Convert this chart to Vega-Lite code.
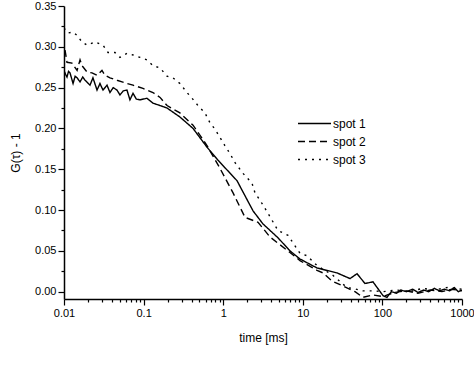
{
  "$schema": "https://vega.github.io/schema/vega-lite/v6.json",
  "width": 398,
  "height": 293,
  "autosize": "none",
  "padding": {"left": 64, "top": 6, "right": 12, "bottom": 71},
  "background": "white",
  "config": {
    "view": {"stroke": null},
    "font": "Liberation Sans",
    "axis": {"labelColor": "black", "titleColor": "black", "domainColor": "black", "tickColor": "black", "labelFont": "Liberation Sans", "titleFont": "Liberation Sans", "titleFontWeight": "normal", "grid": false, "domainWidth": 1.5, "tickWidth": 1.2},
    "legend": {"labelFont": "Liberation Sans", "labelColor": "black"}
  },
  "data": {
    "values": [
      {"s": "spot 1", "t": 0.01, "g": 0.271},
      {"s": "spot 1", "t": 0.0105, "g": 0.266},
      {"s": "spot 1", "t": 0.0109, "g": 0.263},
      {"s": "spot 1", "t": 0.0114, "g": 0.27},
      {"s": "spot 1", "t": 0.0119, "g": 0.268},
      {"s": "spot 1", "t": 0.013, "g": 0.255},
      {"s": "spot 1", "t": 0.0138, "g": 0.264},
      {"s": "spot 1", "t": 0.0146, "g": 0.262},
      {"s": "spot 1", "t": 0.0159, "g": 0.257},
      {"s": "spot 1", "t": 0.0172, "g": 0.263},
      {"s": "spot 1", "t": 0.0184, "g": 0.259},
      {"s": "spot 1", "t": 0.0198, "g": 0.256},
      {"s": "spot 1", "t": 0.0212, "g": 0.253},
      {"s": "spot 1", "t": 0.0231, "g": 0.262},
      {"s": "spot 1", "t": 0.026, "g": 0.247},
      {"s": "spot 1", "t": 0.0283, "g": 0.255},
      {"s": "spot 1", "t": 0.0309, "g": 0.247},
      {"s": "spot 1", "t": 0.0347, "g": 0.253},
      {"s": "spot 1", "t": 0.0378, "g": 0.244},
      {"s": "spot 1", "t": 0.0415, "g": 0.25},
      {"s": "spot 1", "t": 0.0463, "g": 0.247},
      {"s": "spot 1", "t": 0.0505, "g": 0.241},
      {"s": "spot 1", "t": 0.0555, "g": 0.246},
      {"s": "spot 1", "t": 0.0618, "g": 0.247},
      {"s": "spot 1", "t": 0.0674, "g": 0.235},
      {"s": "spot 1", "t": 0.0736, "g": 0.243},
      {"s": "spot 1", "t": 0.081, "g": 0.236},
      {"s": "spot 1", "t": 0.0901, "g": 0.235},
      {"s": "spot 1", "t": 0.11, "g": 0.237},
      {"s": "spot 1", "t": 0.131, "g": 0.231},
      {"s": "spot 1", "t": 0.161, "g": 0.228},
      {"s": "spot 1", "t": 0.197, "g": 0.225},
      {"s": "spot 1", "t": 0.286, "g": 0.214},
      {"s": "spot 1", "t": 0.418, "g": 0.2},
      {"s": "spot 1", "t": 0.626, "g": 0.177},
      {"s": "spot 1", "t": 0.861, "g": 0.161},
      {"s": "spot 1", "t": 1.49, "g": 0.136},
      {"s": "spot 1", "t": 2.37, "g": 0.099},
      {"s": "spot 1", "t": 3.16, "g": 0.083},
      {"s": "spot 1", "t": 4.88, "g": 0.066},
      {"s": "spot 1", "t": 6.9, "g": 0.05},
      {"s": "spot 1", "t": 9.22, "g": 0.04},
      {"s": "spot 1", "t": 15.1, "g": 0.029},
      {"s": "spot 1", "t": 26.9, "g": 0.023},
      {"s": "spot 1", "t": 39.2, "g": 0.016},
      {"s": "spot 1", "t": 48.0, "g": 0.022},
      {"s": "spot 1", "t": 60.4, "g": 0.01},
      {"s": "spot 1", "t": 76.2, "g": 0.012},
      {"s": "spot 1", "t": 102, "g": -0.005},
      {"s": "spot 1", "t": 114, "g": -0.007},
      {"s": "spot 1", "t": 130, "g": 0.0},
      {"s": "spot 1", "t": 150, "g": -0.002},
      {"s": "spot 1", "t": 170, "g": 0.002},
      {"s": "spot 1", "t": 200, "g": 0.0},
      {"s": "spot 1", "t": 240, "g": 0.003},
      {"s": "spot 1", "t": 280, "g": -0.001},
      {"s": "spot 1", "t": 330, "g": 0.002},
      {"s": "spot 1", "t": 380, "g": 0.0},
      {"s": "spot 1", "t": 450, "g": 0.004},
      {"s": "spot 1", "t": 520, "g": 0.001},
      {"s": "spot 1", "t": 600, "g": 0.003},
      {"s": "spot 1", "t": 700, "g": 0.001},
      {"s": "spot 1", "t": 800, "g": 0.005},
      {"s": "spot 1", "t": 900, "g": 0.0},
      {"s": "spot 1", "t": 1000, "g": 0.002},

      {"s": "spot 2", "t": 0.0103, "g": 0.296},
      {"s": "spot 2", "t": 0.0109, "g": 0.281},
      {"s": "spot 2", "t": 0.0126, "g": 0.28},
      {"s": "spot 2", "t": 0.0146, "g": 0.271},
      {"s": "spot 2", "t": 0.0159, "g": 0.284},
      {"s": "spot 2", "t": 0.0168, "g": 0.277},
      {"s": "spot 2", "t": 0.0195, "g": 0.269},
      {"s": "spot 2", "t": 0.0225, "g": 0.268},
      {"s": "spot 2", "t": 0.026, "g": 0.265},
      {"s": "spot 2", "t": 0.03, "g": 0.271},
      {"s": "spot 2", "t": 0.0327, "g": 0.265},
      {"s": "spot 2", "t": 0.0378, "g": 0.262},
      {"s": "spot 2", "t": 0.0463, "g": 0.259},
      {"s": "spot 2", "t": 0.0536, "g": 0.257},
      {"s": "spot 2", "t": 0.0618, "g": 0.255},
      {"s": "spot 2", "t": 0.0736, "g": 0.253},
      {"s": "spot 2", "t": 0.0982, "g": 0.249},
      {"s": "spot 2", "t": 0.131, "g": 0.244},
      {"s": "spot 2", "t": 0.161, "g": 0.238},
      {"s": "spot 2", "t": 0.197, "g": 0.228},
      {"s": "spot 2", "t": 0.286, "g": 0.219},
      {"s": "spot 2", "t": 0.418, "g": 0.204},
      {"s": "spot 2", "t": 0.626, "g": 0.179},
      {"s": "spot 2", "t": 0.912, "g": 0.151},
      {"s": "spot 2", "t": 1.33, "g": 0.121},
      {"s": "spot 2", "t": 1.88, "g": 0.091},
      {"s": "spot 2", "t": 2.74, "g": 0.085},
      {"s": "spot 2", "t": 3.87, "g": 0.067},
      {"s": "spot 2", "t": 6.9, "g": 0.048},
      {"s": "spot 2", "t": 9.22, "g": 0.038},
      {"s": "spot 2", "t": 15.1, "g": 0.026},
      {"s": "spot 2", "t": 17.9, "g": 0.023},
      {"s": "spot 2", "t": 23.3, "g": 0.013},
      {"s": "spot 2", "t": 32.0, "g": 0.007},
      {"s": "spot 2", "t": 45.3, "g": 0.0},
      {"s": "spot 2", "t": 57.0, "g": -0.007},
      {"s": "spot 2", "t": 76.2, "g": -0.004},
      {"s": "spot 2", "t": 102, "g": -0.006},
      {"s": "spot 2", "t": 140, "g": -0.001},
      {"s": "spot 2", "t": 200, "g": 0.001},
      {"s": "spot 2", "t": 280, "g": -0.002},
      {"s": "spot 2", "t": 400, "g": 0.002},
      {"s": "spot 2", "t": 560, "g": 0.0},
      {"s": "spot 2", "t": 750, "g": 0.003},
      {"s": "spot 2", "t": 1000, "g": 0.001},

      {"s": "spot 3", "t": 0.01, "g": 0.323},
      {"s": "spot 3", "t": 0.0112, "g": 0.317},
      {"s": "spot 3", "t": 0.013, "g": 0.318},
      {"s": "spot 3", "t": 0.0146, "g": 0.314},
      {"s": "spot 3", "t": 0.0168, "g": 0.306},
      {"s": "spot 3", "t": 0.0195, "g": 0.302},
      {"s": "spot 3", "t": 0.0245, "g": 0.306},
      {"s": "spot 3", "t": 0.0309, "g": 0.302},
      {"s": "spot 3", "t": 0.0357, "g": 0.293},
      {"s": "spot 3", "t": 0.0437, "g": 0.293},
      {"s": "spot 3", "t": 0.0505, "g": 0.287},
      {"s": "spot 3", "t": 0.0618, "g": 0.292},
      {"s": "spot 3", "t": 0.0736, "g": 0.29},
      {"s": "spot 3", "t": 0.0901, "g": 0.287},
      {"s": "spot 3", "t": 0.11, "g": 0.284},
      {"s": "spot 3", "t": 0.131, "g": 0.277},
      {"s": "spot 3", "t": 0.161, "g": 0.274},
      {"s": "spot 3", "t": 0.197, "g": 0.264},
      {"s": "spot 3", "t": 0.234, "g": 0.262},
      {"s": "spot 3", "t": 0.286, "g": 0.255},
      {"s": "spot 3", "t": 0.351, "g": 0.244},
      {"s": "spot 3", "t": 0.406, "g": 0.237},
      {"s": "spot 3", "t": 0.482, "g": 0.228},
      {"s": "spot 3", "t": 0.59, "g": 0.219},
      {"s": "spot 3", "t": 0.682, "g": 0.207},
      {"s": "spot 3", "t": 0.789, "g": 0.199},
      {"s": "spot 3", "t": 0.912, "g": 0.189},
      {"s": "spot 3", "t": 1.05, "g": 0.179},
      {"s": "spot 3", "t": 1.22, "g": 0.169},
      {"s": "spot 3", "t": 1.41, "g": 0.158},
      {"s": "spot 3", "t": 1.77, "g": 0.145},
      {"s": "spot 3", "t": 2.3, "g": 0.133},
      {"s": "spot 3", "t": 2.51, "g": 0.121},
      {"s": "spot 3", "t": 2.9, "g": 0.112},
      {"s": "spot 3", "t": 3.65, "g": 0.096},
      {"s": "spot 3", "t": 4.88, "g": 0.075},
      {"s": "spot 3", "t": 6.52, "g": 0.069},
      {"s": "spot 3", "t": 9.22, "g": 0.047},
      {"s": "spot 3", "t": 11.3, "g": 0.044},
      {"s": "spot 3", "t": 15.1, "g": 0.032},
      {"s": "spot 3", "t": 19.0, "g": 0.026},
      {"s": "spot 3", "t": 23.9, "g": 0.02},
      {"s": "spot 3", "t": 35.9, "g": 0.005},
      {"s": "spot 3", "t": 42.7, "g": 0.004},
      {"s": "spot 3", "t": 57.0, "g": 0.001},
      {"s": "spot 3", "t": 76.2, "g": 0.001},
      {"s": "spot 3", "t": 102, "g": 0.0},
      {"s": "spot 3", "t": 150, "g": 0.002},
      {"s": "spot 3", "t": 220, "g": 0.0},
      {"s": "spot 3", "t": 320, "g": 0.004},
      {"s": "spot 3", "t": 450, "g": 0.002},
      {"s": "spot 3", "t": 650, "g": 0.005},
      {"s": "spot 3", "t": 1000, "g": 0.003}
    ]
  },
  "layer": [
    {
      "mark": {"type": "line", "color": "black", "strokeWidth": 1.4, "clip": true},
      "encoding": {
        "x": {"field": "t", "type": "quantitative", "scale": {"type": "log", "domain": [0.01, 1000]},
          "axis": {"orient": "bottom", "title": "time [ms]", "values": [0.01, 0.1, 1, 10, 100, 1000], "format": "~g", "tickSize": 6, "labelFontSize": 11, "titleFontSize": 12, "labelPadding": 2, "titlePadding": 14, "labelFlush": false, "labelOverlap": false}},
        "y": {"field": "g", "type": "quantitative", "scale": {"domain": [-0.009, 0.35], "nice": false, "zero": false},
          "axis": {"orient": "left", "title": "G(τ) - 1", "values": [0, 0.05, 0.1, 0.15, 0.2, 0.25, 0.3, 0.35], "format": ".2f", "tickSize": 6, "labelFontSize": 11, "titleFontSize": 12, "labelPadding": 2, "titlePadding": 12}},
        "detail": {"field": "s"},
        "strokeDash": {"field": "s", "type": "nominal",
          "scale": {"domain": ["spot 1", "spot 2", "spot 3"], "range": [[1, 0], [7, 4], [2, 5]]},
          "legend": {"title": null, "orient": "none", "legendX": 244, "legendY": 111, "symbolType": "M-3,0H3", "symbolSize": 121, "symbolStrokeWidth": 1.4, "symbolStrokeColor": "black", "symbolFillColor": "transparent", "labelFontSize": 12, "labelOffset": 12, "rowPadding": 5}}
      }
    },
    {
      "mark": {"type": "point", "opacity": 0},
      "encoding": {
        "x": {"field": "t", "type": "quantitative",
          "axis": {"orient": "bottom", "title": null, "labels": false, "domain": false, "tickSize": 3,
            "values": [0.02, 0.03, 0.04, 0.05, 0.06, 0.07, 0.08, 0.09, 0.2, 0.3, 0.4, 0.5, 0.6, 0.7, 0.8, 0.9, 2, 3, 4, 5, 6, 7, 8, 9, 20, 30, 40, 50, 60, 70, 80, 90, 200, 300, 400, 500, 600, 700, 800, 900]}},
        "y": {"field": "g", "type": "quantitative",
          "axis": {"orient": "left", "title": null, "labels": false, "domain": false, "tickSize": 3,
            "values": [0.025, 0.075, 0.125, 0.175, 0.225, 0.275, 0.325]}}
      }
    }
  ],
  "resolve": {"axis": {"x": "independent", "y": "independent"}}
}
